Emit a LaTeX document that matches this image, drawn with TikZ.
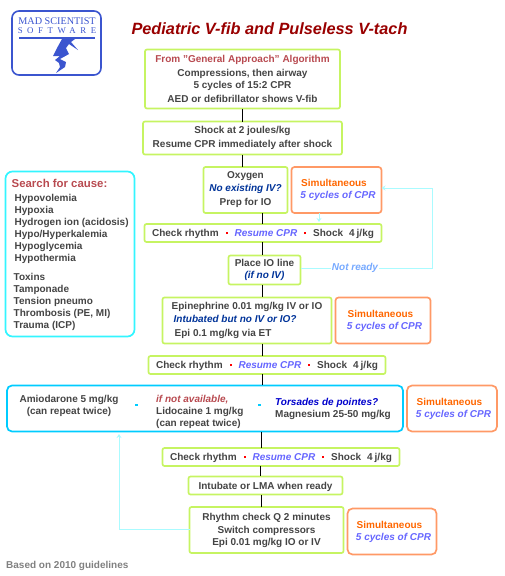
\documentclass[tikz,border=0pt]{standalone}
\usepackage{fontspec}
\setmainfont{Liberation Sans}
\newfontfamily\logofont{Liberation Serif}
\usetikzlibrary{arrows.meta}
\definecolor{boxgreen}{HTML}{C6F462}
\definecolor{boxorange}{HTML}{FF9966}
\definecolor{boxcyan}{HTML}{00CCFF}
\definecolor{searchcyan}{HTML}{33F5FF}
\definecolor{loopcyan}{HTML}{AAFBFF}
\definecolor{logoblue}{HTML}{3B55CF}
\definecolor{titlered}{HTML}{990000}
\definecolor{headred}{HTML}{B84A50}
\definecolor{cprblue}{HTML}{6666FF}
\definecolor{askblue}{HTML}{003399}
\definecolor{bodygray}{HTML}{444444}
\definecolor{simorange}{HTML}{FF6600}
\definecolor{notblue}{HTML}{77AAFF}
\tikzset{
  step box/.style={draw=boxgreen, line width=1.7pt, rounded corners=2pt, inner sep=0pt, outer sep=0pt, align=center, text=bodygray, font=\fontsize{10}{12}\selectfont\bfseries, execute at begin node={\rule{0pt}{9.5pt}}},
  sim box/.style={draw=boxorange, line width=1.7pt, rounded corners=3pt, inner sep=0pt, outer sep=0pt, align=center, font=\fontsize{10}{11}\selectfont\bfseries},
  drug text/.style={inner sep=0pt, align=left, text=bodygray, font=\fontsize{10}{12}\selectfont\bfseries},
  flow/.style={black, line width=0.8pt},
  loop/.style={loopcyan, line width=0.8pt},
  loop tip/.style={-{Stealth[length=4pt,width=5pt]}}
}
\newcommand{\simtext}{\textcolor{simorange}{Simultaneous\hspace{5pt}}\\[1pt]\textcolor{cprblue}{\itshape\hspace{3pt}5 cycles of CPR}}
\newcommand{\reddot}{\hspace{7pt}\textcolor{red}{\rule[2.5pt]{1.8pt}{1.8pt}}\hspace{7pt}}
\newcommand{\checktext}{Check rhythm\reddot\textcolor{cprblue}{\itshape Resume CPR}\reddot Shock\hspace{6pt}4\hspace{2pt}j/kg}
\begin{document}
\begin{tikzpicture}[x=1pt,y=-1pt]
    \useasboundingbox (0,0) rectangle (504,576);

    % logo
    \draw[logoblue, line width=1.6pt, rounded corners=7pt] (12,11) rectangle (101,75);
    \node[inner sep=0pt, text=logoblue, font=\logofont\fontsize{10.2}{11}\selectfont] (logotop) at (57,21) {MAD SCIENTIST};
    \node[inner sep=0pt, text=logoblue, font=\logofont\fontsize{8.8}{10}\selectfont\addfontfeature{LetterSpace=52}] (logobottom) at (57,31) {SOFTWARE};
    \draw[logoblue, line width=1.6pt] (19,38) -- (95,38);
    \fill[logoblue] (62,39) -- (75,39) -- (71,42) -- (78,50) -- (69,44) -- (66,48) -- (69,54) -- (60,59) -- (66,62) -- (65,67) -- (62,69) -- (56,73) -- (60,67) -- (59,63) -- (55,60) -- (60,56) -- (53,56) -- (57,48) -- cycle;

    \node[inner sep=0pt, text=titlered, font=\fontsize{16.3}{18}\selectfont\bfseries\itshape] (title) at (269.5,29) {Pediatric V-fib and Pulseless V-tach};

    % main column
    \node[step box, minimum width=195, minimum height=59] (general) at (242.5,79) {\textcolor{headred}{From "General Approach" Algorithm}\\[2pt]Compressions, then airway\\5 cycles of 15:2 CPR\\[2pt]AED or defibrillator shows V-fib};
    \node[step box, minimum width=199, minimum height=33] (shock) at (242.5,138) {Shock at 2 joules/kg\\[2pt]Resume CPR immediately after shock};
    \node[step box, minimum width=84, minimum height=46] (oxygen) at (245.5,190) {Oxygen\\[1pt]\textcolor{askblue}{\itshape No existing IV?}\\[2pt]Prep for IO\hspace{-3pt}};
    \node[sim box, minimum width=90, minimum height=46] (simone) at (336.5,190) {\simtext};
    \node[step box, minimum width=237, minimum height=18] (checkone) at (263,233) {\checktext};
    \node[step box, minimum width=72, minimum height=29] (placeio) at (264.5,270) {Place IO line\\\textcolor{askblue}{\itshape (if no IV)}};
    \node[step box, align=left, minimum width=169, minimum height=46] (epi) at (247,320.5) {Epinephrine 0.01 mg/kg IV or IO\\[1pt]\hspace{2pt}\textcolor{askblue}{\itshape Intubated but no IV or IO?}\\[2pt]\hspace{3pt}Epi 0.1 mg/kg via ET};
    \node[sim box, minimum width=95, minimum height=46] (simtwo) at (383,320.5) {\simtext};
    \node[step box, minimum width=237, minimum height=18] (checktwo) at (267,365) {\checktext};
    \node[draw=boxcyan, line width=1.7pt, rounded corners=5pt, minimum width=396, minimum height=46, inner sep=0pt, outer sep=0pt] (drugs) at (205,408.5) {};
    \node[sim box, rounded corners=5pt, minimum width=90, minimum height=46] (simthree) at (452,408.5) {\simtext};
    \node[step box, minimum width=237, minimum height=18] (checkthree) at (281,457) {\checktext};
    \node[step box, minimum width=154, minimum height=18] (intubate) at (265.5,485.5) {Intubate or LMA when ready};
    \node[step box, minimum width=154, minimum height=46] (rhythm) at (266.5,530) {Rhythm check Q 2 minutes\\[1pt]Switch compressors\\Epi 0.01 mg/kg IO or IV};
    \node[sim box, rounded corners=5pt, minimum width=89, minimum height=46] (simfour) at (392,531.5) {\simtext};

    % drug box contents
    \node[drug text, align=center] (amio) at (69,406) {Amiodarone 5 mg/kg\\(can repeat twice)};
    \node[drug text, anchor=west] (lido) at (156,412) {\textcolor{headred}{\itshape if not available,}\\Lidocaine 1 mg/kg\\(can repeat twice)};
    \node[drug text, anchor=west] (mag) at (275,409) {\textcolor{blue!80!black}{\itshape Torsades de pointes?}\\Magnesium 25-50 mg/kg};
    \node[fill=boxcyan, inner sep=0pt, minimum size=2.5pt] (dotone) at (136.5,405) {};
    \node[fill=boxcyan, inner sep=0pt, minimum size=2.5pt] (dottwo) at (259.5,405) {};

    % causes
    \node[draw=searchcyan, line width=1.7pt, rounded corners=7pt, minimum width=129, minimum height=165, inner sep=0pt, outer sep=0pt] (causes) at (70,254) {};
    \node[inner sep=0pt, anchor=west, text=headred, font=\fontsize{11.4}{13}\selectfont\bfseries] (causehead) at (11.5,183) {Search for cause:};
    \node[drug text, anchor=north west] (causeone) at (14.5,194.5) {Hypovolemia\\Hypoxia\\Hydrogen ion (acidosis)\\Hypo/Hyperkalemia\\Hypoglycemia\\Hypothermia};
    \node[drug text, anchor=north west] (causetwo) at (13.5,273) {Toxins\\Tamponade\\Tension pneumo\\Thrombosis (PE, MI)\\Trauma (ICP)};

    \node[inner sep=0pt, anchor=west, text=gray, font=\fontsize{10}{12}\selectfont\bfseries] (basis) at (6,566) {Based on 2010 guidelines};

    % flow lines
    \draw[flow] (general.south) -- (shock.north);
    \draw[flow] (shock.south) -- (shock.south |- oxygen.north);
    \draw[flow] (oxygen.south -| checkone.north) ++(-1,0) -- ++(0,11);
    \draw[flow] (checkone.south) ++(-1,0) -- ++(0,13);
    \draw[flow] (placeio.south) ++(-2.5,0) -- ++(0,12);
    \draw[flow] (epi.south) ++(15,0) -- ++(0,12);
    \draw[flow] (checktwo.south) ++(-5,0) -- ++(0,11);
    \draw[flow] (drugs.south) ++(56,0) -- ++(0,16);
    \draw[flow] (intubate.south) ++(-4.5,0) -- ++(0,12);
    \draw[flow] (checkthree.south) ++(-21,0) -- ++(0,10);

    % cyan loops
    \node[inner sep=1pt, fill=white, text=notblue, font=\fontsize{10}{12}\selectfont\bfseries\itshape] (notready) at (355,268) {Not ready};
    \coordinate (loopcorner) at (432,268);
    \draw[loop] (placeio.east |- notready) -- (notready);
    \draw[loop, loop tip] (notready) -- (loopcorner) |- (simone.east |- 0,188);
    \draw[loop, loop tip] (319,213) -- (319,222);
    \coordinate (backcorner) at (119,529);
    \draw[loop, loop tip] (rhythm.west |- backcorner) -- (backcorner) -- (119,434);
\end{tikzpicture}
\end{document}
